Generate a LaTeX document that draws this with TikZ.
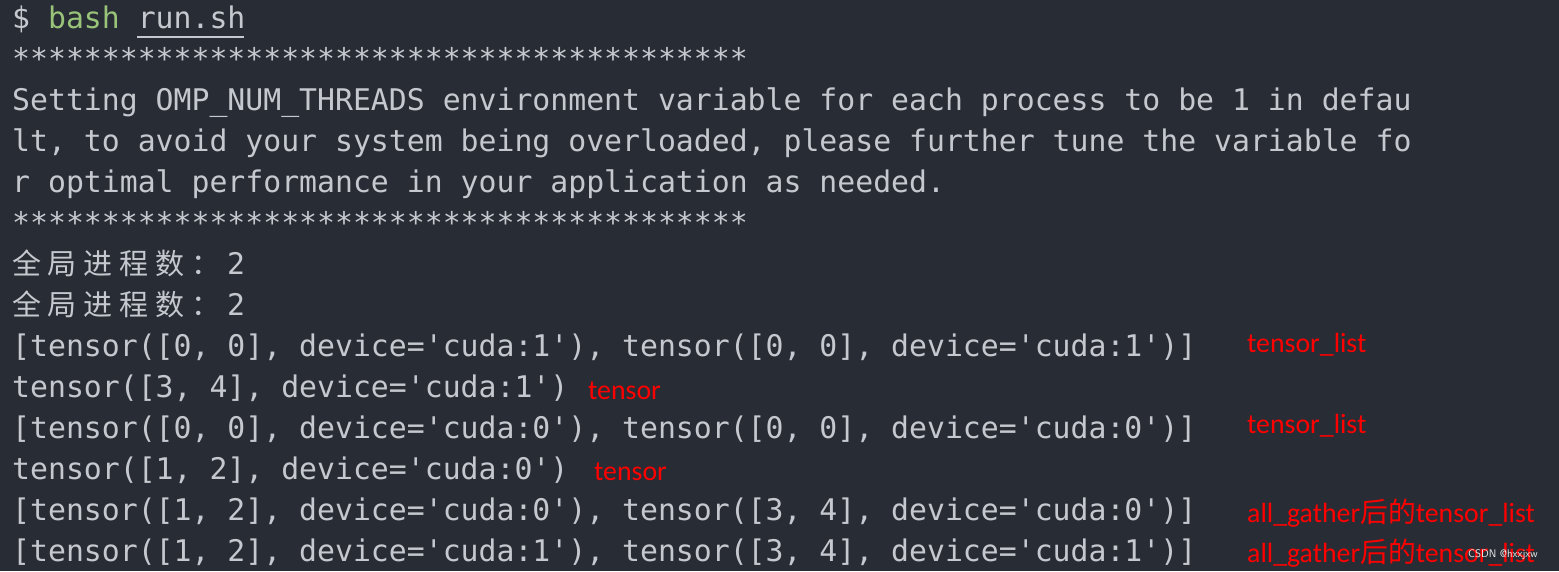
\documentclass[tikz,border=0pt]{standalone}
\usepackage{fontspec}
\setmonofont{DejaVu Sans Mono}
\newfontfamily\cjk{Noto Sans CJK SC}
\newfontfamily\annot{Carlito}
\definecolor{bg}{HTML}{282C34}
\definecolor{fg}{HTML}{C5C9CF}
\definecolor{gr}{HTML}{98C379}
\definecolor{rd}{HTML}{FF0000}
\newcommand{\cj}[1]{\makebox[35.8pt][l]{\cjk\fontsize{29}{30}\selectfont #1}}
\begin{document}
\begin{tikzpicture}[x=1pt,y=-1pt,
  term/.style={anchor=base west,inner sep=0pt,text=fg,font=\ttfamily\fontsize{29.8}{32}\selectfont},
  note/.style={anchor=base west,inner sep=0pt,text=rd,font=\annot\fontsize{27.8}{30}\selectfont}]
\fill[bg] (0,0) rectangle (1559,571);
\useasboundingbox (0,0) rectangle (1559,571);
\node[term] (l0) at (12,28) {\$ \textcolor{gr}{bash} run.sh};
\draw[fg,line width=1.2pt] (137,37) -- (244,37);
\node[term] (l1) at (12,69) {*****************************************};
\node[term] (l2) at (12,110) {Setting OMP\_NUM\_THREADS environment variable for each process to be 1 in defau};
\node[term] (l3) at (12,151) {lt, to avoid your system being overloaded, please further tune the variable fo};
\node[term] (l4) at (12,192) {r optimal performance in your application as needed.};
\node[term] (l5) at (12,233) {*****************************************};
\node[term] (l6) at (12,274) {\cj{全}\cj{局}\cj{进}\cj{程}\cj{数}\cj{：}2};
\node[term] (l7) at (12,315) {\cj{全}\cj{局}\cj{进}\cj{程}\cj{数}\cj{：}2};
\node[term] (l8) at (12,356) {[tensor([0, 0], device='cuda:1'), tensor([0, 0], device='cuda:1')]};
\node[term] (l9) at (12,397) {tensor([3, 4], device='cuda:1')};
\node[term] (l10) at (12,438) {[tensor([0, 0], device='cuda:0'), tensor([0, 0], device='cuda:0')]};
\node[term] (l11) at (12,479) {tensor([1, 2], device='cuda:0')};
\node[term] (l12) at (12,520) {[tensor([1, 2], device='cuda:0'), tensor([3, 4], device='cuda:0')]};
\node[term] (l13) at (12,561) {[tensor([1, 2], device='cuda:1'), tensor([3, 4], device='cuda:1')]};
\node[note] (n1) at (1247,352) {tensor\_list};
\node[note] (n2) at (588,399) {tensor};
\node[note] (n3) at (1247,433) {tensor\_list};
\node[note] (n4) at (594,480) {tensor};
\node[note] (n5) at (1247,522) {all\_gather{\cjk 后的}tensor\_list};
\node[note] (n6) at (1247,562) {all\_gather{\cjk 后的}tensor\_list};
\node[anchor=base west,inner sep=0pt,text=white!85!gray,font=\sffamily\fontsize{11}{12}\selectfont] (wm) at (1468,557) {CSDN @hxxjxw};
\end{tikzpicture}
\end{document}
